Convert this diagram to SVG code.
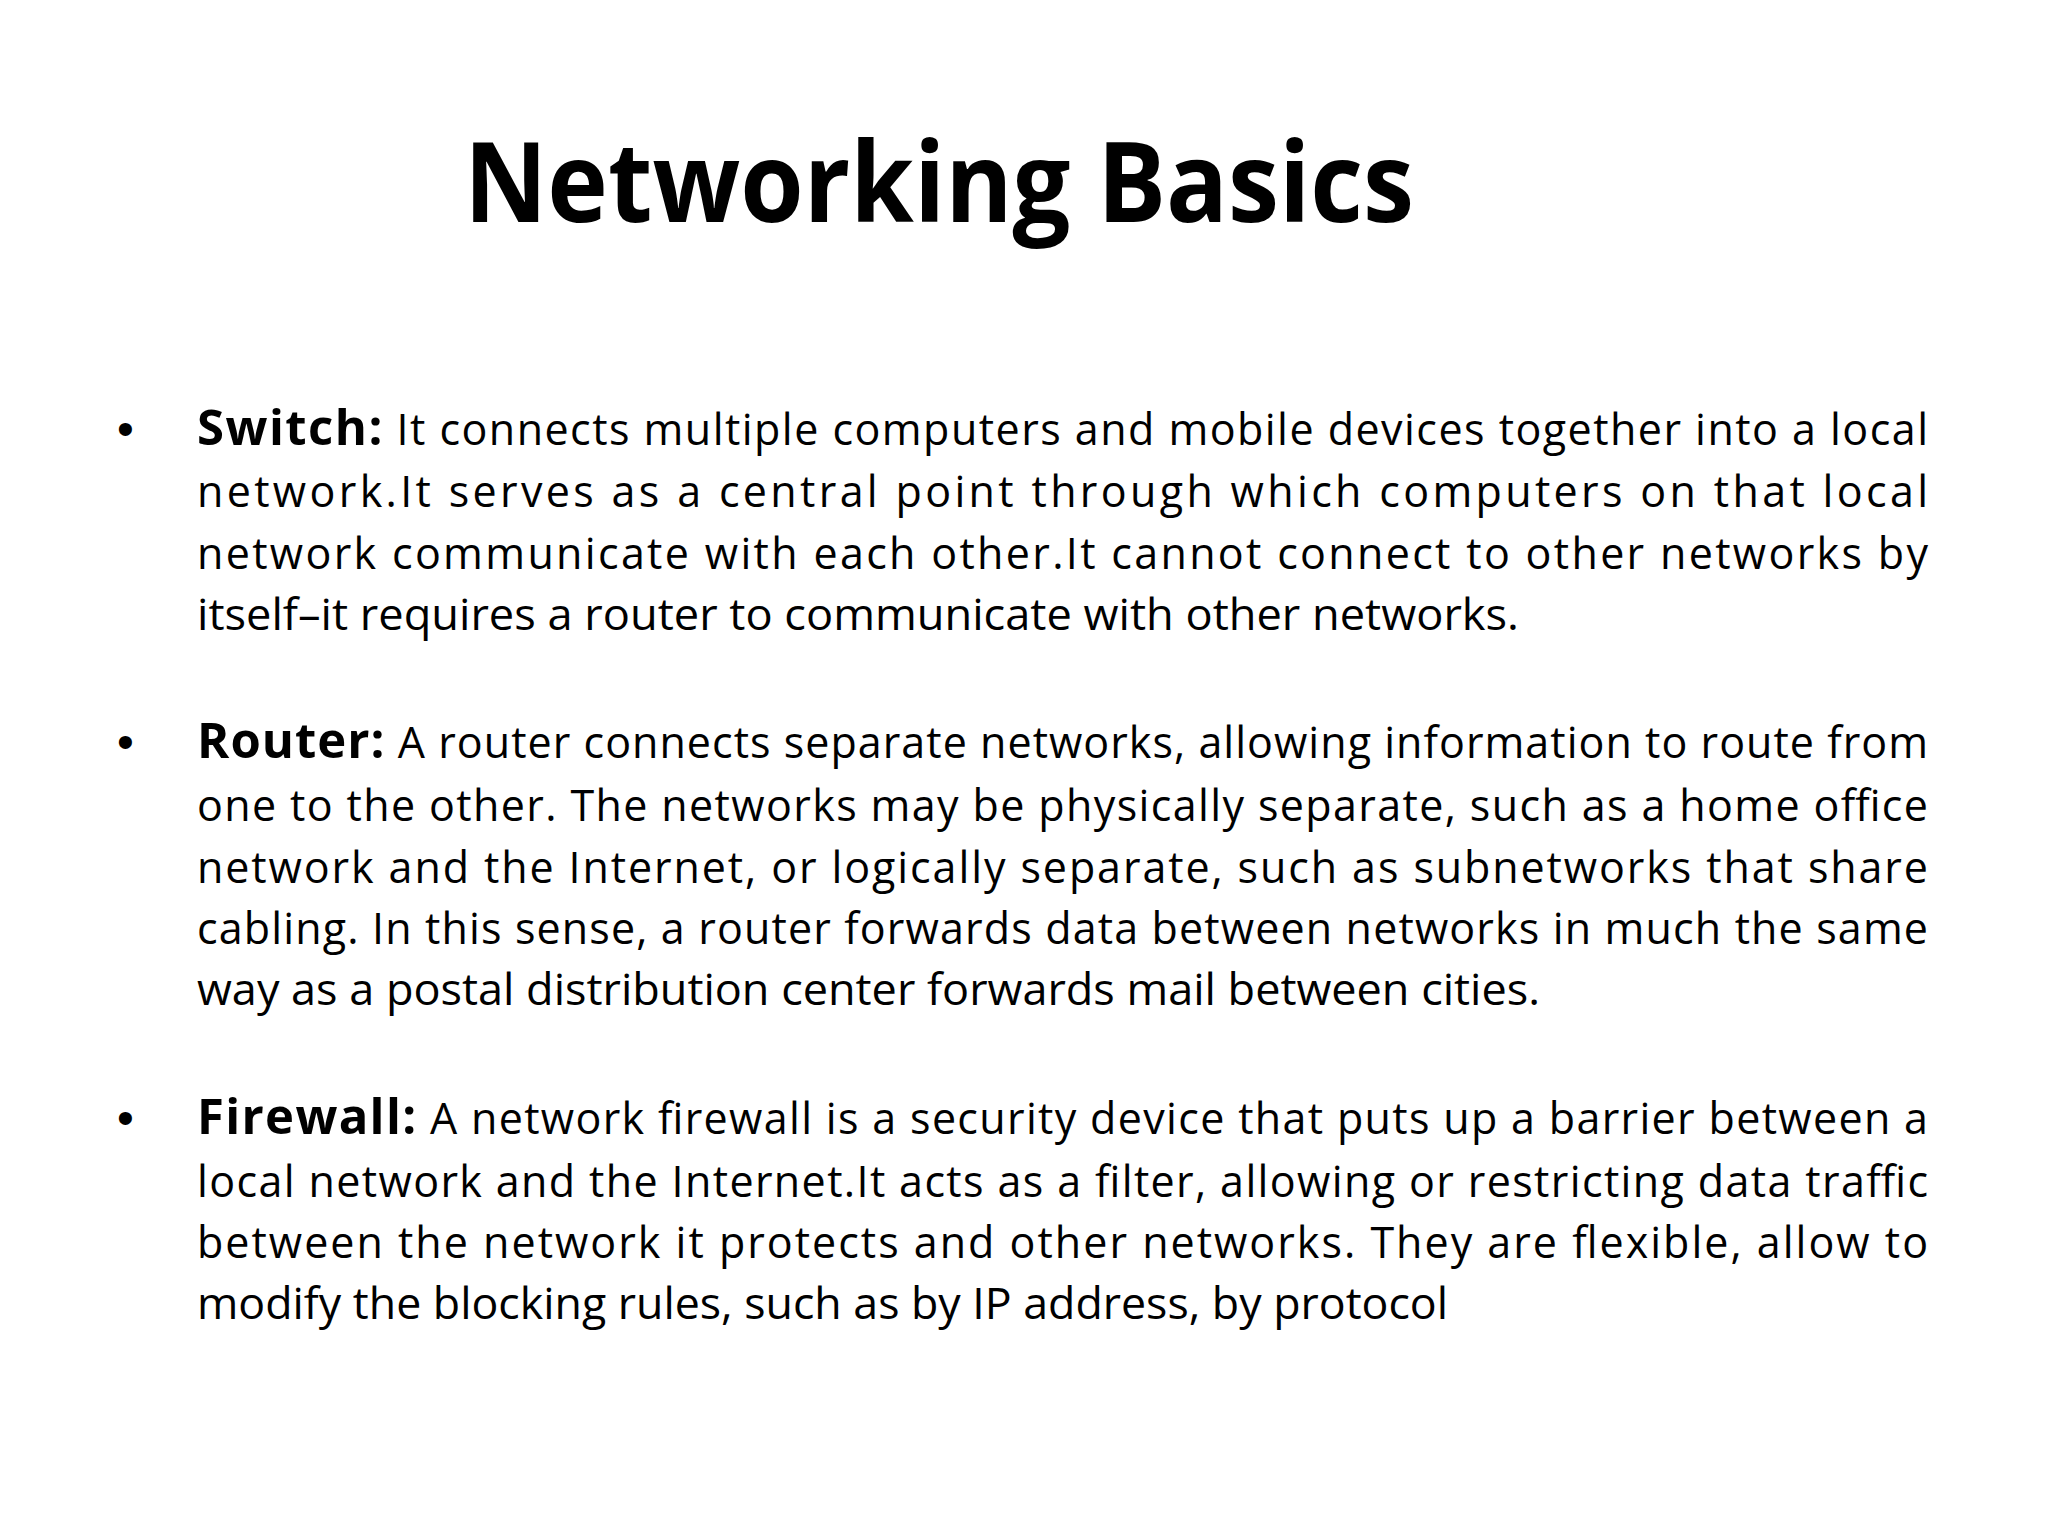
<svg xmlns="http://www.w3.org/2000/svg" width="2048" height="1536" viewBox="0 0 2048 1536">
<style>
.t{font-family:"Open Sans","Noto Sans",sans-serif;font-size:43px;fill:#000}
.d{font-family:"Liberation Sans",sans-serif;font-size:48px;fill:#000}
.b{font-weight:bold;font-size:49px}
.h{font-family:"Open Sans","Noto Sans",sans-serif;font-size:111px;font-weight:bold;fill:#000}
</style>
<rect width="2048" height="1536" fill="#fff"/>
<g id="title"><text class="h" x="464" y="222" textLength="950" lengthAdjust="spacingAndGlyphs">Networking Basics</text></g>
<g id="switch">
<text class="d" x="117" y="445">•</text>
<text class="t" x="197" y="445" textLength="1731" lengthAdjust="spacing"><tspan class="b">Switch:</tspan> It connects multiple computers and mobile devices together into a local</text>
<text class="t" x="197" y="507" textLength="1731" lengthAdjust="spacing">network.It serves as a central point through which computers on that local</text>
<text class="t" x="197" y="569" textLength="1731" lengthAdjust="spacing">network communicate with each other.It cannot connect to other networks by</text>
<text class="t" x="197" y="630" textLength="1322" lengthAdjust="spacingAndGlyphs">itself–it requires a router to communicate with other networks.</text>
</g>
<g id="router">
<text class="d" x="117" y="758">•</text>
<text class="t" x="197" y="758" textLength="1731" lengthAdjust="spacing"><tspan class="b">Router:</tspan> A router connects separate networks, allowing information to route from</text>
<text class="t" x="197" y="821" textLength="1731" lengthAdjust="spacing">one to the other. The networks may be physically separate, such as a home office</text>
<text class="t" x="197" y="883" textLength="1731" lengthAdjust="spacing">network and the Internet, or logically separate, such as subnetworks that share</text>
<text class="t" x="197" y="944" textLength="1731" lengthAdjust="spacing">cabling. In this sense, a router forwards data between networks in much the same</text>
<text class="t" x="197" y="1005" textLength="1343" lengthAdjust="spacingAndGlyphs">way as a postal distribution center forwards mail between cities.</text>
</g>
<g id="firewall">
<text class="d" x="117" y="1134">•</text>
<text class="t" x="197" y="1134" textLength="1731" lengthAdjust="spacing"><tspan class="b">Firewall:</tspan> A network firewall is a security device that puts up a barrier between a</text>
<text class="t" x="197" y="1197" textLength="1731" lengthAdjust="spacing">local network and the Internet.It acts as a filter, allowing or restricting data traffic</text>
<text class="t" x="197" y="1258" textLength="1731" lengthAdjust="spacing">between the network it protects and other networks. They are flexible, allow to</text>
<text class="t" x="197" y="1319" textLength="1251" lengthAdjust="spacingAndGlyphs">modify the blocking rules, such as by IP address, by protocol</text>
</g>
</svg>
